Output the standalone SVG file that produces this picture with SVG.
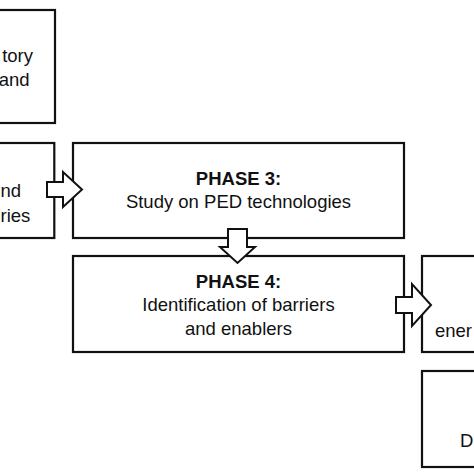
<svg xmlns="http://www.w3.org/2000/svg" width="474" height="474" viewBox="0 0 474 474">
<style>
.box{fill:#fff;stroke:#111;stroke-width:2.2}
.arr{fill:#fff;stroke:#111;stroke-width:2;stroke-linejoin:miter}
text{font-family:"Liberation Sans",Arial,sans-serif;font-size:18.5px;fill:#111}
.t{text-anchor:middle;font-weight:bold}
.c{text-anchor:middle}
.e{text-anchor:end}
</style>
<rect width="474" height="474" fill="#fff"/>
<g id="node1">
<rect class="box" x="-10" y="10" width="65" height="113"/>
<text class="e" x="33" y="62">tory</text>
<text class="e" x="29.5" y="85.5">and</text>
</g>
<g id="node2">
<rect class="box" x="-10" y="143" width="64.3" height="95"/>
<text x="0.5" y="196.5">nd</text>
<text x="0.5" y="222">ries</text>
</g>
<g id="node3">
<rect class="box" x="73" y="143" width="331" height="95"/>
<text class="t" x="238.5" y="185">PHASE 3:</text>
<text class="c" x="238.5" y="207.5">Study on PED technologies</text>
</g>
<g id="node4">
<rect class="box" x="73" y="256" width="331" height="96"/>
<text class="t" x="238.5" y="287.5">PHASE 4:</text>
<text class="c" x="238.5" y="310.5">Identification of barriers</text>
<text class="c" x="238.5" y="334.5">and enablers</text>
</g>
<g id="node5">
<rect class="box" x="422" y="256" width="70" height="96"/>
<text x="435" y="336.5">ener</text>
</g>
<g id="node6">
<rect class="box" x="422" y="371" width="70" height="96"/>
<text x="460" y="447">D</text>
</g>
<g id="connectors">
<polygon class="arr" points="47,182 63,182 63,172 82,189.5 63,207 63,197 47,197"/>
<polygon class="arr" points="228,229 247,229 247,247 255,247 237.5,263 220,247 228,247"/>
<polygon class="arr" points="396,297 412,297 412,284 431,305 412,326 412,313 396,313"/>
</g>
</svg>
